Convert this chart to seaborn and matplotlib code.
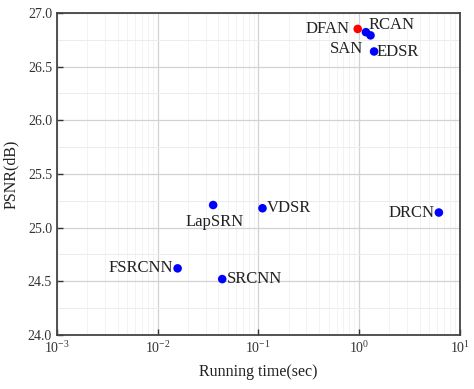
import numpy as np
import pandas as pd
import matplotlib
matplotlib.use("Agg")
import matplotlib.pyplot as plt
import seaborn as sns
from matplotlib.ticker import LogLocator, MultipleLocator

# values
methods = ["DFAN", "RCAN", "SAN", "EDSR", "LapSRN", "VDSR", "FSRCNN", "SRCNN", "DRCN"]
run_time = [0.97, 1.17, 1.30, 1.41, 0.0356, 0.110, 0.0158, 0.0438, 6.2]
psnr = [26.85, 26.82, 26.79, 26.64, 25.21, 25.18, 24.62, 24.52, 25.14]
group = ["ours", "other", "other", "other", "other", "other", "other", "other", "other"]

df = pd.DataFrame({"method": methods, "time": run_time, "psnr": psnr, "group": group})

sns.set_style("white")
plt.rcParams["font.family"] = ["Liberation Serif", "DejaVu Serif"]
plt.rcParams["mathtext.fontset"] = "stix"

fig, ax = plt.subplots(figsize=(4.74, 3.89), dpi=100)
fig.subplots_adjust(left=0.120, right=0.970, top=0.967, bottom=0.139)

sns.scatterplot(data=df, x="time", y="psnr", hue="group",
                palette={"ours": "red", "other": "blue"},
                s=38, edgecolor="none", legend=False, ax=ax, zorder=3)

ax.set_xscale("log")
ax.set_xlim(1e-3, 1e1)
ax.set_ylim(24.0, 27.0)
ax.yaxis.set_major_locator(MultipleLocator(0.5))
ax.yaxis.set_minor_locator(MultipleLocator(0.25))
ax.xaxis.set_major_locator(LogLocator(base=10))
ax.xaxis.set_minor_locator(LogLocator(base=10, subs=np.arange(2, 10)))
ax.yaxis.set_major_formatter(plt.FormatStrFormatter("%.1f"))

ax.grid(True, which="major", color="#d2d2d2", linewidth=0.9)
ax.grid(True, which="minor", axis="y", color="#ececec", linewidth=0.7)
ax.grid(True, which="minor", axis="x", color="#f1f1f1", linewidth=0.6)
ax.set_axisbelow(True)

ax.tick_params(which="major", direction="in", length=4.5, width=1, colors="#333333",
               labelsize=10, labelcolor="#333333", top=False, right=False,
               bottom=True, left=True)
ax.tick_params(which="minor", length=0)
for sp in ax.spines.values():
    sp.set_color("#444444")
    sp.set_linewidth(1.3)

ax.set_xlabel("Running time(sec)", fontsize=11.5, color="#222222", labelpad=6)
ax.set_ylabel("PSNR(dB)", fontsize=11.5, color="#222222", labelpad=6)

# label placement (offsets in points)
offsets = {
    "DFAN": (-6, 0, "right", "center"),
    "RCAN": (2, 5, "left", "center"),
    "SAN": (-5, -10, "right", "center"),
    "EDSR": (2, -0.5, "left", "center"),
    "LapSRN": (1, -12, "center", "center"),
    "VDSR": (3, 0, "left", "center"),
    "FSRCNN": (-3, 0, "right", "center"),
    "SRCNN": (3, 0, "left", "center"),
    "DRCN": (-3, 0, "right", "center"),
}
for m, t, p in zip(methods, run_time, psnr):
    dx, dy, ha, va = offsets[m]
    ax.annotate(m, (t, p), xytext=(dx, dy), textcoords="offset points",
                ha=ha, va=va, fontsize=12, color="#222222")

fig.savefig("out.png", dpi=100)
